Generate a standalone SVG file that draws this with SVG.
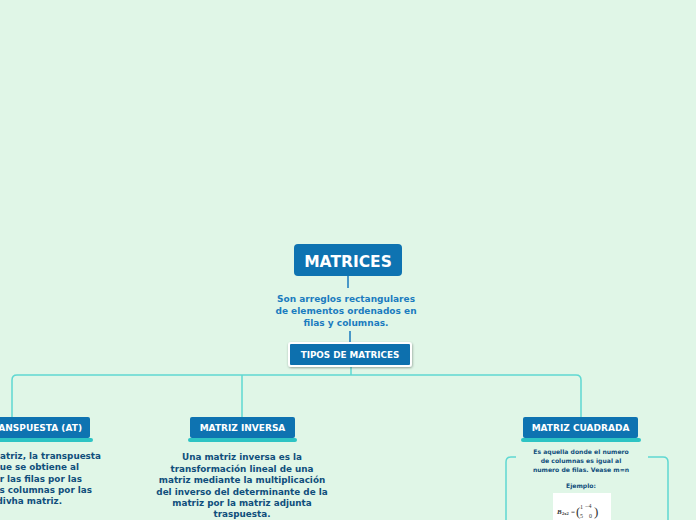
<svg xmlns="http://www.w3.org/2000/svg" width="696" height="520" viewBox="0 0 696 520">
<defs>
<style>
.t{font-family:"DejaVu Sans","Liberation Sans",sans-serif;font-weight:bold;text-anchor:middle}
.e{text-anchor:end}
.hdr{fill:#0e73b1}
.bar{fill:#2ec4c4}
.lbl{fill:#ffffff;font-size:9px}
.body{fill:#104f7c;font-size:8.8px}
.small{font-size:6.1px}
.conn{fill:none;stroke:#5fd8d2;stroke-width:1.5}
</style>
<filter id="sh" x="-10%" y="-20%" width="120%" height="150%">
<feDropShadow dx="0.5" dy="1" stdDeviation="0.8" flood-color="#000" flood-opacity="0.35"/>
</filter>
</defs>
<rect width="696" height="520" fill="#e0f6e7"/>
<g id="connectors">
<line x1="348" y1="276" x2="348" y2="288" stroke="#4a98c8" stroke-width="2"/>
<line x1="350" y1="331" x2="350" y2="342" stroke="#4a98c8" stroke-width="2"/>
<path class="conn" d="M351 366 V375"/>
<path class="conn" d="M12 418 V380 Q12 375 17 375 H576 Q581 375 581 380 V418"/>
<path class="conn" d="M242 375 V418"/>
</g>
<g id="matrices">
<rect x="294" y="244" width="108" height="32" rx="4" class="hdr"/>
<text x="348" y="266.5" class="t" fill="#fff" style="font-size:15.5px">MATRICES</text>
</g>
<g id="definicion">
<text class="t" fill="#1b7cbf" style="font-size:9px"><tspan x="346" y="302">Son arreglos rectangulares</tspan><tspan x="346" y="314">de elementos ordenados en</tspan><tspan x="346" y="326">filas y columnas.</tspan></text>
</g>
<g id="tipos">
<rect x="289" y="343" width="122" height="23" rx="2" fill="#0c6fae" stroke="#fff" stroke-width="2" filter="url(#sh)"/>
<text x="350" y="358" class="t lbl" style="font-size:8.8px">TIPOS DE MATRICES</text>
</g>
<g id="transpuesta">
<rect x="-68" y="438" width="161" height="4" rx="2" class="bar"/>
<rect x="-66" y="417" width="156" height="21" rx="2" class="hdr"/>
<text x="82" y="431" class="t lbl e">MATRIZ TRANSPUESTA (AT)</text>
<text class="t body e"><tspan x="101" y="458.5">Dada una matriz, la transpuesta</tspan><tspan x="79" y="470">es la matriz que se obtiene al</tspan><tspan x="82" y="481.5">intercambiar las filas por las</tspan><tspan x="92" y="493">respectivas columnas por las</tspan><tspan x="62" y="504">filas de divha matriz.</tspan></text>
</g>
<g id="inversa">
<rect x="188" y="438" width="109" height="4" rx="2" class="bar"/>
<rect x="190" y="417" width="105" height="21" rx="2" class="hdr"/>
<text x="242.5" y="431" class="t lbl">MATRIZ INVERSA</text>
<text class="t body"><tspan x="242" y="460">Una matriz inversa es la</tspan><tspan x="242" y="471.5">transformación lineal de una</tspan><tspan x="242" y="483">matriz mediante la multiplicación</tspan><tspan x="242" y="494.5">del inverso del determinante de la</tspan><tspan x="242" y="506">matriz por la matriz adjunta</tspan><tspan x="242" y="517">traspuesta.</tspan></text>
</g>
<g id="cuadrada">
<rect x="521" y="438" width="120" height="4" rx="2" class="bar"/>
<rect x="523" y="417" width="115" height="21" rx="2" class="hdr"/>
<text x="580.5" y="431" class="t lbl">MATRIZ CUADRADA</text>
<path class="conn" stroke-width="1.2" d="M516 457 H511 Q506 457 506 462 V525 M648 457 H663 Q668 457 668 462 V525"/>
<text class="t body small"><tspan x="581" y="454">Es aquella donde el numero</tspan><tspan x="581" y="463">de columnas es igual al</tspan><tspan x="581" y="472">numero de filas. Vease m=n</tspan><tspan x="581" y="488">Ejemplo:</tspan></text>
<rect x="553" y="493" width="58" height="30" fill="#fff"/>
<g font-family="'Liberation Serif',serif" fill="#333">
<text x="557" y="514" font-size="7px" font-style="italic" font-weight="bold">B</text>
<text x="562" y="515" font-size="4.5px" font-weight="bold">2x2</text>
<text x="571" y="514" font-size="7px">=</text>
<text x="576" y="516" font-size="13px">(</text>
<text x="580" y="509" font-size="6px">1</text>
<text x="580" y="518" font-size="6px">5</text>
<text x="585" y="508" font-size="6px">−4</text>
<text x="589" y="518" font-size="6px">0</text>
<text x="594" y="516" font-size="13px">)</text>
</g>
</g>
</svg>
